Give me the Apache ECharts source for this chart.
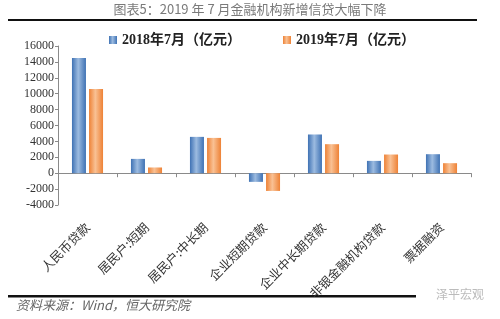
<!DOCTYPE html>
<html>
<head>
<meta charset="utf-8">
<script src="https://cdn.jsdelivr.net/npm/echarts@6/dist/echarts.min.js"></script>
<style>
  html, body { margin: 0; padding: 0; background: #fff; }
  #chart { width: 500px; height: 319px; }
</style>
</head>
<body>
<div id="chart"></div>
<script>
const categories = ['人民币贷款', '居民户:短期', '居民户:中长期', '企业短期贷款', '企业中长期贷款', '非银金融机构贷款', '票据融资'];
const data2018 = [14500, 1800, 4570, -1090, 4870, 1550, 2390];
const data2019 = [10600, 720, 4440, -2230, 3650, 2350, 1260];
const seriesNames = ['2018年7月（亿元）', '2019年7月（亿元）'];

const chart = echarts.init(document.getElementById('chart'));

// 柱子的横向渐变，模仿原图立体效果
function barColor(dark, light) {
    return new echarts.graphic.LinearGradient(0, 0, 1, 0, [
        { offset: 0, color: dark },
        { offset: 0.45, color: light },
        { offset: 1, color: dark }
    ]);
}

const serif = 'Liberation Serif';
const cjk = 'Noto Sans CJK SC';

let option = {
    animation: false,
    backgroundColor: '#fff',
    legend: {
        top: 28,
        left: 104,
        itemGap: 42,
        itemWidth: 8,
        itemHeight: 8,
        icon: 'rect',
        textStyle: {
            fontFamily: serif + ',' + cjk,
            fontWeight: 'bold',
            fontSize: 14,
            color: '#222'
        },
        data: seriesNames
    },
    grid: {
        left: 58,
        right: 29,
        top: 46,
        bottom: 114,
        outerBoundsMode: 'none',
        containLabel: false
    },
    xAxis: {
        type: 'category',
        data: categories,
        axisLine: { onZero: true, lineStyle: { color: '#8a8a8a' } },
        axisTick: { show: true, length: 4, inside: false, lineStyle: { color: '#8a8a8a' } },
        axisLabel: {
            rotate: 45,
            interval: 0,
            fontFamily: cjk,
            fontSize: 12.5,
            color: '#333',
            margin: 20
        }
    },
    yAxis: {
        type: 'value',
        min: -4000,
        max: 16000,
        interval: 2000,
        axisLine: { show: true, lineStyle: { color: '#8a8a8a' } },
        axisTick: { show: true, length: 3, lineStyle: { color: '#8a8a8a' } },
        splitLine: { show: false },
        axisLabel: {
            fontFamily: serif,
            fontSize: 12,
            color: '#333',
            margin: 4,
            formatter: (v) => String(v)
        }
    },
    series: [
        {
            name: seriesNames[0],
            type: 'bar',
            barWidth: 14,
            barGap: '22%',
            itemStyle: { color: barColor('#3f72b4', '#9cbbe0') },
            data: data2018
        },
        {
            name: seriesNames[1],
            type: 'bar',
            barWidth: 14,
            itemStyle: { color: barColor('#ee8236', '#f9c194') },
            data: data2019
        }
    ],
    graphic: [
        {
            type: 'text',
            left: 'center',
            top: 3,
            style: {
                text: '图表5：2019 年 7 月金融机构新增信贷大幅下降',
                font: '13px ' + cjk,
                fill: '#7a7a7a'
            }
        },
        {
            type: 'rect',
            shape: { x: 8, y: 19, width: 469, height: 2 },
            style: { fill: '#111' }
        },
        {
            type: 'rect',
            shape: { x: 8, y: 295, width: 408, height: 2.5 },
            style: { fill: '#111' }
        },
        {
            type: 'text',
            left: 16,
            top: 299,
            style: {
                text: '资料来源：Wind，恒大研究院',
                font: 'italic 13px ' + cjk,
                fill: '#666'
            }
        },
        {
            type: 'text',
            left: 436,
            top: 288,
            style: {
                text: '泽平宏观',
                font: '12px ' + cjk,
                fill: '#bbb'
            }
        }
    ]
};

chart.setOption(option);
</script>
</body>
</html>
